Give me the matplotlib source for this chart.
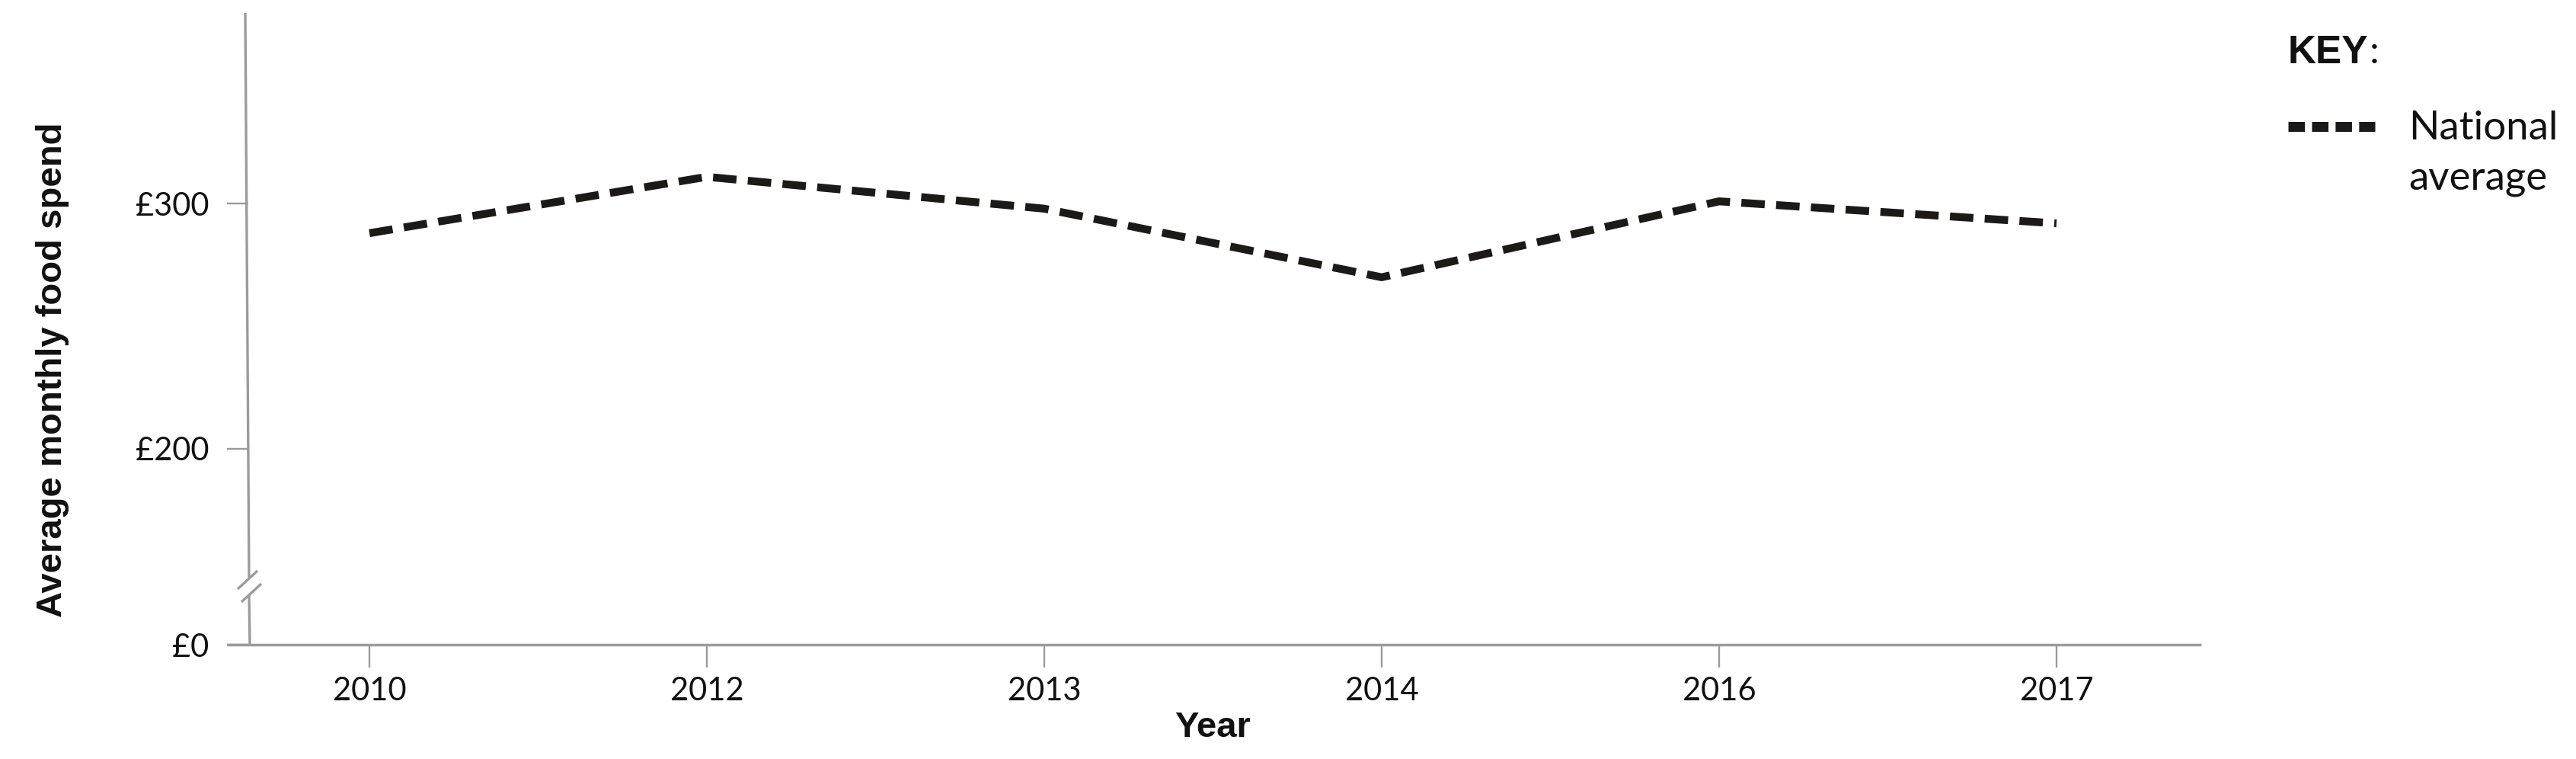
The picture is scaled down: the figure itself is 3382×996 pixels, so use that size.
import matplotlib
matplotlib.use("Agg")
import matplotlib.pyplot as plt
from matplotlib.lines import Line2D

# ---- data ----
years = ["2010", "2012", "2013", "2014", "2016", "2017"]
national_average = [288, 311, 298, 270, 301, 292]
ytick_values = [0, 200, 300]
ytick_labels = ["£0", "£200", "£300"]

# ---- figure geometry (pixels, full-size reference) ----
W, H = 3382, 996
DPI = 100
fig = plt.figure(figsize=(W / DPI, H / DPI), dpi=DPI)
fig.patch.set_facecolor("white")

def fx(px):
    return px / W

def fy(py):
    return 1 - py / H

GRAY = "#9b9b9b"
INK = "#1c1a17"
TXT = "#111111"
REG = ["Lato", "DejaVu Sans"]
BOLD = ["Liberation Sans", "DejaVu Sans"]

ax_left, ax_right, ax_top, ax_bottom = 326, 2890, 17, 846
ax = fig.add_axes([fx(ax_left), fy(ax_bottom), fx(ax_right) - fx(ax_left), fy(ax_top) - fy(ax_bottom)])
ax.set_facecolor("none")

# broken y scale: values >= ~140 are linear, £0 sits at the bottom of the axis
ZERO_POS = 120
def ypos(v):
    return ZERO_POS if v == 0 else v

xs = list(range(len(years)))
ax.plot(xs, national_average, color=INK, lw=7.4, dashes=(3.0, 1.45),
        solid_capstyle="butt", dash_capstyle="butt", solid_joinstyle="miter")

ax.set_xlim(-0.359, 5.429)
ax.set_ylim(ZERO_POS, 377.9)

for s in ax.spines.values():
    s.set_visible(False)

ax.set_xticks(xs)
ax.set_xticklabels(years, family=REG, fontsize=30, color=TXT)
ax.set_yticks([ypos(v) for v in ytick_values])
ax.set_yticklabels(ytick_labels, family=REG, fontsize=30, color=TXT)
ax.tick_params(axis="x", direction="out", length=21.5, width=1.7, color=GRAY, pad=9)
ax.tick_params(axis="y", direction="out", length=20, width=1.7, color=GRAY, pad=17)

# axis lines drawn in figure pixels
def fline(x0, y0, x1, y1, **kw):
    fig.add_artist(Line2D([fx(x0), fx(x1)], [fy(y0), fy(y1)], transform=fig.transFigure, **kw))

# x axis
fline(298, ax_bottom, 2890, ax_bottom, color=GRAY, lw=2.5, solid_capstyle="butt")
# y axis (upper part and lower part around the break)
fline(322, 17, 327, 760, color=GRAY, lw=2.4, solid_capstyle="butt")
fline(327, 781, 328, ax_bottom, color=GRAY, lw=2.4, solid_capstyle="butt")
# break marks
fline(312, 773, 338, 749, color=GRAY, lw=2.4, solid_capstyle="butt")
fline(317, 790, 343, 766, color=GRAY, lw=2.4, solid_capstyle="butt")

# axis titles
fig.text(fx(1592), fy(955), "Year", family=BOLD, weight="bold", fontsize=34,
         color=TXT, ha="center", va="center")
fig.text(fx(69), fy(485), "Average monthly food spend", family=BOLD, weight="bold",
         fontsize=34, color=TXT, ha="center", va="center", rotation=90)

# key
fig.text(fx(3004), fy(83), "KEY", family=BOLD, weight="bold", fontsize=37,
         color=TXT, ha="left", va="baseline")
fig.text(fx(3111), fy(83), ":", family=REG, fontsize=37, color=TXT, ha="left", va="baseline")
fline(3004, 166, 3118, 166, color=INK, lw=9.4, dashes=(1.65, 0.72),
      solid_capstyle="butt", dash_capstyle="butt")
fig.text(fx(3162), fy(183), "National", family=REG, fontsize=38, color=TXT,
         ha="left", va="baseline")
fig.text(fx(3162), fy(248), "average", family=REG, fontsize=38, color=TXT,
         ha="left", va="baseline")

fig.savefig("out.png", dpi=DPI, facecolor="white")
